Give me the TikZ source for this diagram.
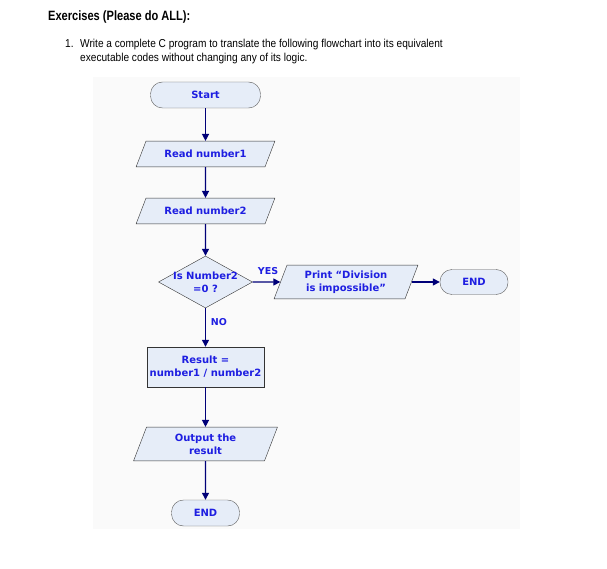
\documentclass[tikz,border=0pt]{standalone}
\usepackage{fontspec}
\setmainfont{Liberation Sans}
\newfontfamily\chartfont{DejaVu Sans}
\newfontfamily\headfont[FakeStretch=0.82]{Liberation Sans}
\newfontfamily\taskfont[FakeStretch=0.88]{Liberation Sans}
\usetikzlibrary{shapes.geometric,arrows.meta}
\definecolor{boxfill}{RGB}{230,237,248}
\definecolor{boxtext}{RGB}{30,30,225}
\definecolor{flowline}{RGB}{0,0,120}
\definecolor{bggray}{RGB}{250,250,250}
\begin{document}
\begin{tikzpicture}[x=1pt,y=-1pt,
  every node/.style={font=\chartfont\bfseries\fontsize{10}{13}\selectfont,text=boxtext},
  terminal/.style={draw=black!65,fill=boxfill,rectangle,rounded corners=12pt,
    minimum width=110pt,minimum height=26pt,inner sep=0pt},
  io/.style={draw=black!80,fill=boxfill,trapezium,trapezium left angle=69,
    trapezium right angle=111,text width=119pt,inner xsep=0pt,inner ysep=9pt,
    align=center},
  process/.style={draw=black!80,fill=boxfill,rectangle,minimum width=117pt,
    minimum height=40pt,inner sep=0pt,align=center},
  decision/.style={draw=black!80,fill=boxfill,diamond,minimum width=94pt,
    minimum height=52pt,inner sep=0pt},
  flow/.style={draw=flowline,line width=1.3pt,-{Triangle[length=7pt,width=7pt]}},
  head/.style={anchor=base west,inner sep=0pt,text=black}]
  \useasboundingbox (0,0) rectangle (607,569);

  % heading
  \node[head,font=\headfont\bfseries\fontsize{13.5}{16}\selectfont] (title) at (48,21) {Exercises (Please do ALL):};
  \node[head,font=\taskfont\fontsize{11.5}{13.5}\selectfont] (num) at (65,48) {1.};
  \node[head,font=\taskfont\fontsize{11.5}{13.5}\selectfont] (task1) at (80,48) {Write a complete C program to translate the following flowchart into its equivalent};
  \node[head,font=\taskfont\fontsize{11.5}{13.5}\selectfont] (task2) at (80,61.5) {executable codes without changing any of its logic.};

  \fill[bggray] (93,77) rectangle (520,529);

  % flowchart
  \node[terminal] (start) at (205.5,95) {Start};
  \node[io] (read1) at (205.5,154) {Read number1};
  \node[io] (read2) at (205.5,211) {Read number2};
  \node[decision,label={[align=center]center:Is Number2\\=0 ?}] (zero) at (205.5,282) {};
  \node[io,text width=118pt,inner ysep=5.5pt] (msg) at (346,282) {Print “Division\\is impossible”};
  \node[terminal,minimum width=68pt,minimum height=25pt] (end1) at (474,282) {END};
  \node[process] (calc) at (205.5,367) {Result =\\number1 / number2};
  \node[io,text width=118pt,inner ysep=6.5pt] (out) at (205.5,444) {Output the\\result};
  \node[terminal,minimum width=68pt] (end2) at (205.5,513) {END};

  \node[font=\chartfont\bfseries\fontsize{9.5}{11}\selectfont] (yes) at (268,271) {YES};
  \node[font=\chartfont\bfseries\fontsize{9.5}{11}\selectfont] (no) at (219,322) {NO};

  \draw[flow] (start) -- (read1);
  \draw[flow] (read1) -- (read2);
  \draw[flow] (read2) -- (zero);
  \draw[flow] (zero) -- (msg);
  \draw[flow] (msg) -- (end1);
  \draw[flow] (zero) -- (calc);
  \draw[flow] (calc) -- (out);
  \draw[flow] (out) -- (end2);
\end{tikzpicture}
\end{document}
